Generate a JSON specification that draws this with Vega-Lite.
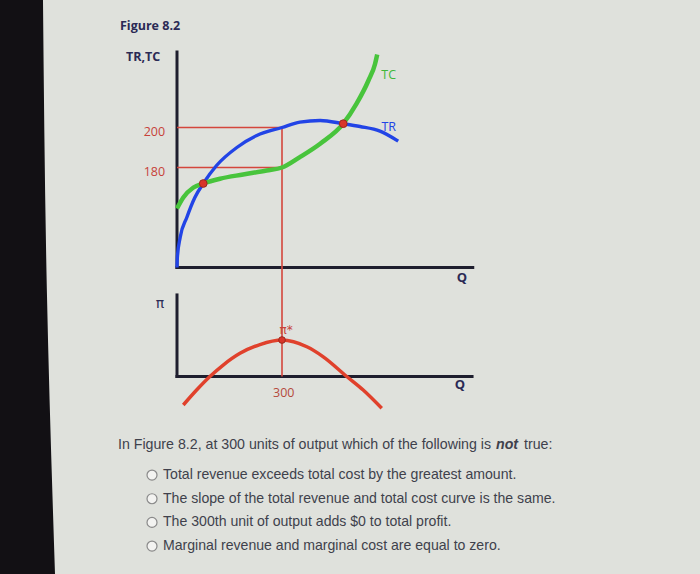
{
  "$schema": "https://vega.github.io/schema/vega-lite/v6.json",
  "width": 700,
  "height": 574,
  "autosize": {"type": "fit", "contains": "padding"},
  "padding": 0,
  "background": "#dfe1dc",
  "config": {"view": {"stroke": null}},
  "datasets": {
    "edge": [
      {"v": 263.75, "q": -382.9},
      {"v": 120, "q": -372},
      {"v": -23.25, "q": -348.6}
    ],
    "axesTop": [
      {"q": 0, "v": 130, "q2": 845, "v2": 130},
      {"q": 0, "v": 130, "q2": 0, "v2": 237.75}
    ],
    "guidesTop": [
      {"q": 0, "v": 200, "q2": 300, "v2": 200},
      {"q": 0, "v": 180, "q2": 300, "v2": 180},
      {"q": 300, "v": 200, "q2": 300, "v2": 130}
    ],
    "tr": [
      {"q": 0, "v": 130}, {"q": 1, "v": 135}, {"q": 9, "v": 145}, {"q": 28, "v": 155},
      {"q": 51, "v": 165}, {"q": 75, "v": 172}, {"q": 113, "v": 181}, {"q": 171, "v": 190},
      {"q": 228, "v": 196}, {"q": 300, "v": 200}, {"q": 351, "v": 202.7}, {"q": 409, "v": 203.5},
      {"q": 475, "v": 201.9}, {"q": 523, "v": 200.5}, {"q": 580, "v": 198.2}, {"q": 632, "v": 193.2}
    ],
    "tc": [
      {"q": 0, "v": 159.5}, {"q": 18, "v": 165}, {"q": 47, "v": 170}, {"q": 75, "v": 172},
      {"q": 123, "v": 174.4}, {"q": 189, "v": 176.5}, {"q": 256, "v": 178.5}, {"q": 300, "v": 180},
      {"q": 351, "v": 185.2}, {"q": 409, "v": 191.9}, {"q": 475, "v": 201.9}, {"q": 513, "v": 211.9},
      {"q": 547, "v": 223.5}, {"q": 566, "v": 231.9}, {"q": 572, "v": 236.5}
    ],
    "crossTop": [
      {"q": 75, "v": 172},
      {"q": 475, "v": 201.9}
    ],
    "axesBottom": [
      {"q": 0, "p": 0, "q2": 843, "p2": 0},
      {"q": 0, "p": 0, "q2": 0, "p2": 44.7}
    ],
    "guideBottom": [
      {"q": 300, "p": 0, "q2": 300, "p2": 60}
    ],
    "profit": [
      {"q": 18, "p": -15.6}, {"q": 56, "p": -7.4}, {"q": 94, "p": 0}, {"q": 132, "p": 6.3},
      {"q": 180, "p": 12.7}, {"q": 237, "p": 17.5}, {"q": 300, "p": 20}, {"q": 371, "p": 16.3},
      {"q": 418, "p": 10.8}, {"q": 485, "p": 0}, {"q": 532, "p": -7.4}, {"q": 585, "p": -17.4}
    ],
    "radios": [
      {"line": 1, "q": -71.4},
      {"line": 2, "q": -71.4},
      {"line": 3, "q": -71.4},
      {"line": 4, "q": -71.4}
    ],
    "options": [
      {"line": 1, "q": -40, "text": "Total revenue exceeds total cost by the greatest amount."},
      {"line": 2, "q": -40, "text": "The slope of the total revenue and total cost curve is the same."},
      {"line": 3, "q": -40, "text": "The 300th unit of output adds $0 to total profit."},
      {"line": 4, "q": -40, "text": "Marginal revenue and marginal cost are equal to zero."}
    ]
  },
  "resolve": {"scale": {"y": "independent"}},
  "layer": [
    {
      "encoding": {
        "x": {"field": "q", "type": "quantitative", "scale": {"domain": [-505.714, 1494.286], "nice": false, "zero": false}, "axis": null},
        "y": {"field": "v", "type": "quantitative", "scale": {"domain": [-23.25, 263.75], "nice": false, "zero": false}, "axis": null}
      },
      "layer": [
        {
          "data": {"name": "edge"},
          "mark": {"type": "area", "orient": "horizontal", "color": "#121014", "interpolate": "monotone"},
          "encoding": {"x2": {"datum": -505.714}}
        },
        {
          "data": {"name": "axesTop"},
          "mark": {"type": "rule", "color": "#1e1e2e", "strokeWidth": 3, "strokeCap": "square"},
          "encoding": {"x2": {"field": "q2"}, "y2": {"field": "v2"}}
        },
        {
          "data": {"name": "guidesTop"},
          "mark": {"type": "rule", "color": "#d4463c", "strokeWidth": 1.6},
          "encoding": {"x2": {"field": "q2"}, "y2": {"field": "v2"}}
        },
        {
          "data": {"name": "tr"},
          "mark": {"type": "line", "color": "#2244e6", "strokeWidth": 3.4, "interpolate": "monotone"}
        },
        {
          "data": {"name": "tc"},
          "mark": {"type": "line", "color": "#48c43c", "strokeWidth": 4.5, "interpolate": "monotone"}
        },
        {
          "data": {"name": "crossTop"},
          "mark": {"type": "point", "filled": true, "size": 60, "color": "#d8362a", "stroke": "#9a2a1e", "strokeWidth": 1, "opacity": 1}
        },
        {
          "data": {"values": [{"label": "Figure 8.2", "q": -162.9, "v": 250.75}]},
          "mark": {"type": "text", "align": "left", "baseline": "middle", "font": "Open Sans", "fontWeight": "bold", "fontSize": 12.5, "color": "#2b2a55"},
          "encoding": {"text": {"field": "label"}}
        },
        {
          "data": {"values": [{"label": "TR,TC", "q": -145.7, "v": 235.25}]},
          "mark": {"type": "text", "align": "left", "baseline": "middle", "font": "Open Sans", "fontWeight": "bold", "fontSize": 12.5, "color": "#2b2a55"},
          "encoding": {"text": {"field": "label"}}
        },
        {
          "data": {"values": [{"label": "200", "q": -34, "v": 200}, {"label": "180", "q": -34, "v": 180}]},
          "mark": {"type": "text", "align": "right", "baseline": "middle", "dy": 4, "font": "Open Sans", "fontSize": 12.5, "color": "#c7423a"},
          "encoding": {"text": {"field": "label"}}
        },
        {
          "data": {"values": [{"label": "TC", "q": 605, "v": 226.25}]},
          "mark": {"type": "text", "align": "center", "baseline": "middle", "font": "Open Sans", "fontSize": 12.5, "color": "#3fb83a"},
          "encoding": {"text": {"field": "label"}}
        },
        {
          "data": {"values": [{"label": "TR", "q": 605, "v": 200.25}]},
          "mark": {"type": "text", "align": "center", "baseline": "middle", "font": "Open Sans", "fontSize": 12.5, "color": "#2244e6"},
          "encoding": {"text": {"field": "label"}}
        },
        {
          "data": {"values": [{"label": "Q", "q": 814, "v": 124.75}]},
          "mark": {"type": "text", "align": "center", "baseline": "middle", "font": "Open Sans", "fontWeight": "bold", "fontSize": 13, "color": "#2b2a55"},
          "encoding": {"text": {"field": "label"}}
        }
      ]
    },
    {
      "encoding": {
        "x": {"field": "q", "type": "quantitative", "scale": {"domain": [-505.714, 1494.286], "nice": false, "zero": false}, "axis": null},
        "y": {"field": "p", "type": "quantitative", "scale": {"domain": [-108.2, 206.3], "nice": false, "zero": false}, "axis": null}
      },
      "layer": [
        {
          "data": {"name": "axesBottom"},
          "mark": {"type": "rule", "color": "#1e1e2e", "strokeWidth": 3, "strokeCap": "square"},
          "encoding": {"x2": {"field": "q2"}, "y2": {"field": "p2"}}
        },
        {
          "data": {"name": "guideBottom"},
          "mark": {"type": "rule", "color": "#d4463c", "strokeWidth": 1.6},
          "encoding": {"x2": {"field": "q2"}, "y2": {"field": "p2"}}
        },
        {
          "data": {"name": "profit"},
          "mark": {"type": "line", "color": "#e0412c", "strokeWidth": 3.5, "interpolate": "monotone"}
        },
        {
          "data": {"values": [{"q": 300, "p": 20}]},
          "mark": {"type": "point", "filled": true, "size": 45, "color": "#d8362a", "stroke": "#9a2a1e", "strokeWidth": 1, "opacity": 1}
        },
        {
          "data": {"values": [{"label": "π", "q": -48.6, "p": 39.7}]},
          "mark": {"type": "text", "align": "center", "baseline": "middle", "font": "DejaVu Sans", "fontSize": 14, "color": "#2b2a55"},
          "encoding": {"text": {"field": "label"}}
        },
        {
          "data": {"values": [{"label": "π*", "q": 312, "p": 25.5}]},
          "mark": {"type": "text", "align": "center", "baseline": "middle", "font": "DejaVu Sans", "fontSize": 12, "color": "#c7423a"},
          "encoding": {"text": {"field": "label"}}
        },
        {
          "data": {"values": [{"label": "300", "q": 305, "p": -9}]},
          "mark": {"type": "text", "align": "center", "baseline": "middle", "font": "Open Sans", "fontSize": 12.5, "color": "#b54a3c"},
          "encoding": {"text": {"field": "label"}}
        },
        {
          "data": {"values": [{"label": "Q", "q": 808.6, "p": -4.7}]},
          "mark": {"type": "text", "align": "center", "baseline": "middle", "font": "Open Sans", "fontWeight": "bold", "fontSize": 13, "color": "#2b2a55"},
          "encoding": {"text": {"field": "label"}}
        }
      ]
    },
    {
      "encoding": {
        "x": {"field": "q", "type": "quantitative", "scale": {"domain": [-505.714, 1494.286], "nice": false, "zero": false}, "axis": null},
        "y": {"field": "line", "type": "quantitative", "scale": {"domain": [-19.07, 5.18], "nice": false, "zero": false, "reverse": true}, "axis": null}
      },
      "layer": [
        {
          "data": {"values": [{"part": "In Figure 8.2, at 300 units of output which of the following is", "q": -168.6, "line": 0}]},
          "mark": {"type": "text", "align": "left", "baseline": "middle", "dy": -6, "font": "Liberation Sans", "fontSize": 14.2, "color": "#40414c"},
          "encoding": {"text": {"field": "part"}}
        },
        {
          "data": {"values": [{"part": "not", "q": 911.4, "line": 0}]},
          "mark": {"type": "text", "align": "left", "baseline": "middle", "dy": -6, "font": "Liberation Sans", "fontSize": 14.2, "fontWeight": "bold", "fontStyle": "italic", "color": "#40414c"},
          "encoding": {"text": {"field": "part"}}
        },
        {
          "data": {"values": [{"part": "true:", "q": 991.4, "line": 0}]},
          "mark": {"type": "text", "align": "left", "baseline": "middle", "dy": -6, "font": "Liberation Sans", "fontSize": 14.2, "color": "#40414c"},
          "encoding": {"text": {"field": "part"}}
        },
        {
          "data": {"name": "radios"},
          "mark": {"type": "point", "shape": "circle", "size": 100, "filled": true, "fill": "#f3f3f1", "stroke": "#8a8a8a", "strokeWidth": 1.2, "opacity": 1}
        },
        {
          "data": {"name": "options"},
          "mark": {"type": "text", "align": "left", "baseline": "middle", "font": "Liberation Sans", "fontSize": 14.1, "color": "#40414c"},
          "encoding": {"text": {"field": "text"}}
        }
      ]
    }
  ]
}
